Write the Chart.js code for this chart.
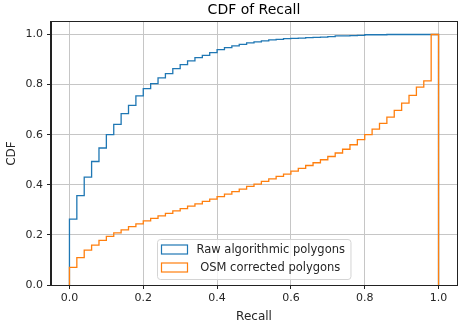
<!DOCTYPE html>
<html>
<head>
<meta charset="utf-8">
<script src="https://cdn.jsdelivr.net/npm/chart.js@4"></script>
<style>
  html, body { margin: 0; padding: 0; background: #fff; }
  canvas { display: block; }
</style>
</head>
<body>
<canvas id="cdfChart" width="474" height="332"></canvas>
<script>
// cumulative fraction of polygons per recall bin (50 bins of width 0.02 over [0, 1])
const binWidth = 0.02;
const rawCdf = [
  0.263, 0.357, 0.431, 0.493, 0.547, 0.600, 0.641, 0.684, 0.717, 0.755,
  0.784, 0.804, 0.827, 0.844, 0.864, 0.880, 0.895, 0.908, 0.917, 0.928,
  0.940, 0.948, 0.955, 0.961, 0.967, 0.971, 0.975, 0.979, 0.981, 0.984,
  0.985, 0.986, 0.988, 0.989, 0.990, 0.992, 0.995, 0.995, 0.996, 0.997,
  0.999, 0.999, 0.999, 1.000, 1.000, 1.000, 1.000, 1.000, 1.000, 1.000
];
const osmCdf = [
  0.070, 0.109, 0.139, 0.159, 0.178, 0.194, 0.208, 0.220, 0.233, 0.244,
  0.256, 0.266, 0.276, 0.286, 0.296, 0.305, 0.315, 0.324, 0.334, 0.343,
  0.353, 0.363, 0.373, 0.383, 0.394, 0.403, 0.414, 0.424, 0.434, 0.443,
  0.455, 0.466, 0.477, 0.488, 0.500, 0.513, 0.527, 0.542, 0.560, 0.580,
  0.600, 0.622, 0.645, 0.670, 0.697, 0.726, 0.757, 0.790, 0.815, 1.000
];
const seriesLabels = ['Raw algorithmic polygons', ' OSM corrected polygons'];
const seriesColors = ['#1f77b4', '#ff7f0e'];
const xTicks = [0, 0.2, 0.4, 0.6, 0.8, 1.0];
const yTicks = [0, 0.2, 0.4, 0.6, 0.8, 1.0];

const FONT = 'DejaVu Sans';

// outline of a cumulative step histogram: up at 0, across each bin, down at the last edge
function stepOutline(cdf) {
  const pts = [{ x: 0, y: 0 }];
  cdf.forEach((v, i) => {
    pts.push({ x: i * binWidth, y: v });
    pts.push({ x: (i + 1) * binWidth, y: v });
  });
  pts.push({ x: cdf.length * binWidth, y: 0 });
  return pts;
}

const titlePlugin = {
  id: 'plotTitle',
  afterDraw(chart) {
    const { ctx, chartArea } = chart;
    ctx.save();
    ctx.font = '14px "' + FONT + '"';
    ctx.fillStyle = '#000';
    ctx.textAlign = 'center';
    ctx.textBaseline = 'middle';
    ctx.fillText('CDF of Recall', (chartArea.left + chartArea.right) / 2, 10);
    ctx.restore();
  }
};

const framePlugin = {
  id: 'frame',
  afterDatasetsDraw(chart) {
    const { ctx, chartArea: a } = chart;
    ctx.save();
    ctx.strokeStyle = '#222';
    ctx.lineWidth = 1;
    ctx.strokeRect(Math.round(a.left) - 0.5, Math.round(a.top) - 0.5,
      Math.round(a.right - a.left) + 1, Math.round(a.bottom - a.top) + 1);
    ctx.restore();
  }
};

// legend box in the lower centre of the plot, like matplotlib's
const boxLegend = {
  id: 'boxLegend',
  afterDraw(chart) {
    const { ctx, chartArea: a } = chart;
    const sets = chart.data.datasets;
    ctx.save();
    ctx.font = '11.5px "' + FONT + '"';
    const textW = Math.max(...sets.map(d => ctx.measureText(d.label).width));
    const textOff = 39, rowH = 18;
    const w = textOff + textW + 6;
    const h = 10 + rowH * (sets.length - 1) + 12;
    const left = Math.round((a.left + a.right) / 2 - w / 2) + 0.5;
    const top = Math.round(a.bottom - 6 - h) + 0.5;
    ctx.beginPath();
    ctx.roundRect(left, top, w, h, 3);
    ctx.fillStyle = 'rgba(255,255,255,0.8)';
    ctx.fill();
    ctx.strokeStyle = '#d4d4d4';
    ctx.lineWidth = 1;
    ctx.stroke();
    sets.forEach((d, i) => {
      const cy = top + 10 + rowH * i;
      ctx.strokeStyle = d.borderColor;
      ctx.lineWidth = 1.2;
      ctx.strokeRect(left + 4, Math.round(cy - 4.5), 26, 9);
      ctx.fillStyle = '#262626';
      ctx.textAlign = 'left';
      ctx.textBaseline = 'middle';
      ctx.fillText(d.label, left + textOff, cy + 0.5);
    });
    ctx.restore();
  }
};

const tickFont = { family: FONT, size: 11 };
const gridStyle = { color: '#c6c6c6', lineWidth: 1, tickColor: '#222', tickLength: 4, tickWidth: 1 };

new Chart(document.getElementById('cdfChart'), {
  type: 'line',
  data: {
    datasets: [
      { label: seriesLabels[0], data: stepOutline(rawCdf), borderColor: seriesColors[0], order: 1 },
      { label: seriesLabels[1], data: stepOutline(osmCdf), borderColor: seriesColors[1], order: 0 }
    ]
  },
  options: {
    responsive: false,
    animation: false,
    devicePixelRatio: 1,
    layout: { padding: { left: 0, right: 17, top: 22, bottom: 0 } },
    elements: {
      line: { borderWidth: 1.3, tension: 0, fill: false },
      point: { radius: 0, hoverRadius: 0 }
    },
    plugins: {
      legend: { display: false },
      tooltip: { enabled: false },
      title: { display: false }
    },
    scales: {
      x: {
        type: 'linear',
        min: -0.05,
        max: 1.05,
        afterBuildTicks: s => { s.ticks = xTicks.map(v => ({ value: v })); },
        afterFit: s => { s.height = 47; },
        ticks: { callback: v => v.toFixed(1), color: '#262626', font: tickFont, padding: 3, maxRotation: 0 },
        grid: gridStyle,
        border: { display: true, color: '#222', width: 1 },
        title: { display: true, text: 'Recall', color: '#262626', font: { family: FONT, size: 12 }, padding: { top: 0, bottom: 8 } }
      },
      y: {
        type: 'linear',
        min: 0,
        max: 1.05,
        afterBuildTicks: s => { s.ticks = yTicks.map(v => ({ value: v })); },
        afterFit: s => { s.width = 51; },
        ticks: { callback: v => v.toFixed(1), color: '#262626', font: tickFont, padding: 4 },
        grid: gridStyle,
        border: { display: true, color: '#222', width: 1 },
        title: { display: true, text: 'CDF', color: '#262626', font: { family: FONT, size: 12 }, padding: { top: 5, bottom: 0 } }
      }
    }
  },
  plugins: [titlePlugin, framePlugin, boxLegend]
});
</script>
</body>
</html>
